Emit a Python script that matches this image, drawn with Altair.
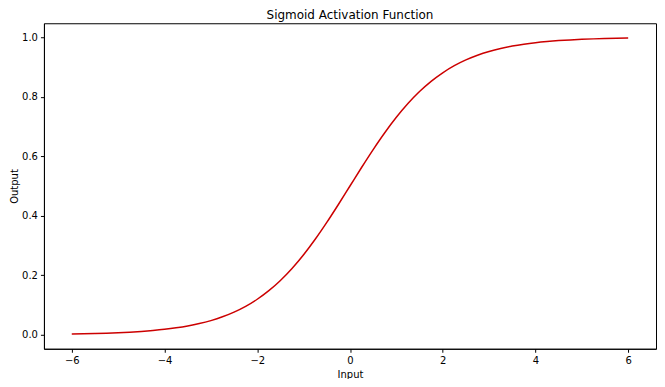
import altair as alt
import pandas as pd

# Values
inputs = [-6.0, -5.75, -5.5, -5.25, -5.0, -4.75, -4.5, -4.25, -4.0, -3.75, -3.5, -3.25,
          -3.0, -2.75, -2.5, -2.25, -2.0, -1.75, -1.5, -1.25, -1.0, -0.75, -0.5, -0.25,
          0.0, 0.25, 0.5, 0.75, 1.0, 1.25, 1.5, 1.75, 2.0, 2.25, 2.5, 2.75,
          3.0, 3.25, 3.5, 3.75, 4.0, 4.25, 4.5, 4.75, 5.0, 5.25, 5.5, 5.75, 6.0]
outputs = [0.0025, 0.0032, 0.0041, 0.0052, 0.0067, 0.0086, 0.0110, 0.0141, 0.0180, 0.0230, 0.0293, 0.0373,
           0.0474, 0.0601, 0.0759, 0.0953, 0.1192, 0.1480, 0.1824, 0.2227, 0.2689, 0.3208, 0.3775, 0.4378,
           0.5000, 0.5622, 0.6225, 0.6792, 0.7311, 0.7773, 0.8176, 0.8520, 0.8808, 0.9047, 0.9241, 0.9399,
           0.9526, 0.9627, 0.9707, 0.9770, 0.9820, 0.9859, 0.9890, 0.9914, 0.9933, 0.9948, 0.9959, 0.9968, 0.9975]
x_ticks = [-6, -4, -2, 0, 2, 4, 6]
y_ticks = [0.0, 0.2, 0.4, 0.6, 0.8, 1.0]

df = pd.DataFrame({"Input": inputs, "Output": outputs})

font = "DejaVu Sans"

chart = alt.Chart(df).mark_line(color="#cc0000", strokeWidth=1.5, interpolate="monotone").encode(
    x=alt.X("Input:Q", scale=alt.Scale(domain=[-6.6, 6.6], nice=False, zero=False),
            axis=alt.Axis(values=x_ticks, format="d", title="Input")),
    y=alt.Y("Output:Q", scale=alt.Scale(domain=[-0.0473, 1.0473], nice=False, zero=False),
            axis=alt.Axis(values=y_ticks, format=".1f", title="Output")),
).properties(
    width=613,
    height=326,
    title=alt.TitleParams("Sigmoid Activation Function", font=font, fontSize=12,
                          fontWeight="normal", color="black", offset=1),
    autosize=alt.AutoSizeParams(type="none"),
    padding={"left": 36, "top": 15, "right": 1, "bottom": 30},
).configure_view(
    stroke="black", strokeWidth=1
).configure_axis(
    grid=False,
    domainColor="black",
    domainWidth=1,
    tickColor="black",
    tickSize=3.5,
    labelFont=font,
    labelFontSize=10,
    labelColor="black",
    labelPadding=3,
    titleFont=font,
    titleFontSize=10,
    titleFontWeight="normal",
    titleColor="black",
).configure_axisX(
    titlePadding=4,
).configure_axisY(
    titlePadding=2,
)

chart.save("out.html", embed_options={"renderer": "svg", "actions": False})
